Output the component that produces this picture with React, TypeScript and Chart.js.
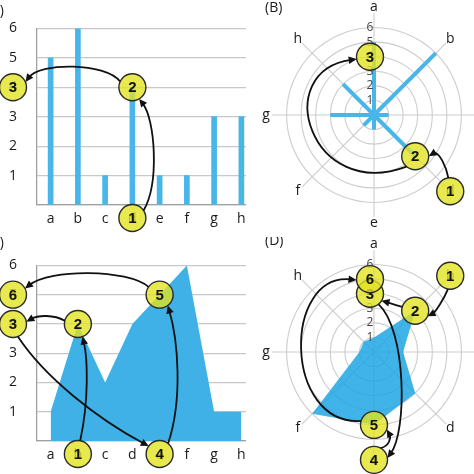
import { useEffect, useRef } from 'react';
import { Chart, registerables } from 'chart.js';

Chart.register(...registerables);

// chart data
const categories = ['a', 'b', 'c', 'd', 'e', 'f', 'g', 'h'];
const barValues = [5, 6, 1, 4, 1, 1, 3, 3]; // panels A and B
const areaValues = [1, 4, 2, 4, 5, 6, 1, 1]; // panels C and D
const yTicks = [1, 2, 3, 4, 5, 6];
const yMax = 6;
const ringMax = 7;
const LABEL_R = 7.4;

const BLUE = '#48b6e8';
const FONT = '"Open Sans", "Liberation Sans", sans-serif';
const BOLD = '"Liberation Sans", Arial, sans-serif';

type Spot = { n: number; at: 'label' | 'value' | 'tick'; i?: number; v?: number };
type Link = { from: number; to: number; a0: number; a1: number; c0: [number, number]; c1: [number, number] };

const spotsA: Spot[] = [
  { n: 1, at: 'label', i: 3 },
  { n: 2, at: 'value', i: 3, v: 4 },
  { n: 3, at: 'tick', v: 4 },
];
const linksA: Link[] = [
  { from: 1, to: 2, a0: -34, a1: 60, c0: [16, -27], c1: [16, 20] },
  { from: 2, to: 3, a0: -155, a1: -23, c0: [-15, -19], c1: [15, -20] },
];

const spotsB: Spot[] = [
  { n: 1, at: 'label', i: 3 },
  { n: 2, at: 'value', i: 3, v: 4 },
  { n: 3, at: 'tick', v: 4 },
];
const linksB: Link[] = [
  { from: 1, to: 2, a0: -98, a1: 0, c0: [-2, -11], c1: [10, -6] },
  { from: 2, to: 3, a0: 130, a1: 170, c0: [-96, 36], c1: [-87, 12] },
];

const spotsC: Spot[] = [
  { n: 1, at: 'label', i: 1 },
  { n: 2, at: 'value', i: 1, v: 4 },
  { n: 3, at: 'tick', v: 4 },
  { n: 4, at: 'label', i: 4 },
  { n: 5, at: 'value', i: 4, v: 5 },
  { n: 6, at: 'tick', v: 5 },
];
const linksC: Link[] = [
  { from: 1, to: 2, a0: -80, a1: 70, c0: [9, -42], c1: [5, 21] },
  { from: 2, to: 3, a0: 194, a1: -9, c0: [-11, -6], c1: [12, -7] },
  { from: 3, to: 4, a0: 69, a1: 216, c0: [27, 41], c1: [-51, -27] },
  { from: 4, to: 5, a0: -51, a1: 53, c0: [15, -45], c1: [10, 34] },
  { from: 5, to: 6, a0: 215, a1: -27, c0: [-21, -18], c1: [25, -20] },
];

const spotsD: Spot[] = [
  { n: 1, at: 'label', i: 1 },
  { n: 2, at: 'value', i: 1, v: 4 },
  { n: 3, at: 'tick', v: 4 },
  { n: 4, at: 'label', i: 4 },
  { n: 5, at: 'value', i: 4, v: 5 },
  { n: 6, at: 'tick', v: 5 },
];
const linksD: Link[] = [
  { from: 1, to: 2, a0: 100, a1: 24, c0: [-4, 10], c1: [8, -4] },
  { from: 2, to: 3, a0: 197, a1: 32, c0: [-8, -2], c1: [8, 2] },
  { from: 3, to: 4, a0: 51, a1: -8, c0: [28, 26], c1: [20, -27] },
  { from: 4, to: 5, a0: -61, a1: 20, c0: [10, -2], c1: [4, 7] },
  { from: 5, to: 6, a0: 197, a1: 176, c0: [-78, 5], c1: [-74, -8] },
];

type NoteCfg = {
  tag: string;
  tagX: number;
  tagY: number;
  tagAlign: CanvasTextAlign;
  spots: Spot[];
  links: Link[];
  radial?: boolean;
  spokes?: boolean;
};

const R = 13.5;

function spotXY(chart: any, s: Spot, radial?: boolean) {
  if (radial) {
    const r = chart.scales.r;
    if (s.at === 'tick') return { x: r.xCenter - 4, y: r.yCenter - r.getDistanceFromCenterForValue(s.v) };
    const p = r.getPointPositionForValue(s.i, s.at === 'label' ? LABEL_R : s.v);
    return { x: p.x, y: p.y };
  }
  const xs = chart.scales.x;
  const ys = chart.scales.y;
  if (s.at === 'tick') return { x: ys.right - 24, y: ys.getPixelForValue(s.v) };
  if (s.at === 'label') return { x: xs.getPixelForValue(s.i), y: chart.chartArea.bottom + 13 };
  return { x: xs.getPixelForValue(s.i), y: ys.getPixelForValue(s.v) };
}

function notes(cfg: NoteCfg) {
  return {
    id: 'notes',
    afterDatasetsDraw(chart: any) {
      if (!cfg.radial) return;
      const ctx = chart.ctx;
      const r = chart.scales.r;
      ctx.save();
      if (cfg.spokes) {
        ctx.strokeStyle = BLUE;
        ctx.lineWidth = 4;
        chart.getDatasetMeta(0).data.forEach((p: any) => {
          ctx.beginPath();
          ctx.moveTo(r.xCenter, r.yCenter);
          ctx.lineTo(p.x, p.y);
          ctx.stroke();
        });
      }
      ctx.textAlign = 'center';
      ctx.textBaseline = 'middle';
      ctx.font = `12px ${FONT}`;
      ctx.fillStyle = '#444';
      yTicks.forEach((v) => ctx.fillText(String(v), r.xCenter - 4, r.yCenter - r.getDistanceFromCenterForValue(v)));
      ctx.font = `14px ${FONT}`;
      ctx.fillStyle = '#1a1a1a';
      categories.forEach((c, i) => {
        const p = r.getPointPositionForValue(i, LABEL_R);
        ctx.fillText(c, p.x, p.y);
      });
      ctx.restore();
    },
    afterDraw(chart: any) {
      const ctx = chart.ctx;
      ctx.save();
      ctx.font = `14px ${FONT}`;
      ctx.fillStyle = '#1a1a1a';
      ctx.textAlign = cfg.tagAlign;
      ctx.textBaseline = 'middle';
      ctx.fillText(cfg.tag, cfg.tagX, cfg.tagY);

      const pos: Record<number, { x: number; y: number }> = {};
      cfg.spots.forEach((s) => {
        const p = spotXY(chart, s, cfg.radial);
        pos[s.n] = p;
        ctx.beginPath();
        ctx.arc(p.x, p.y, R, 0, Math.PI * 2);
        ctx.fillStyle = 'rgba(226,228,34,0.8)';
        ctx.fill();
        ctx.lineWidth = 1.4;
        ctx.strokeStyle = '#2a2a2a';
        ctx.stroke();
        ctx.fillStyle = '#111';
        ctx.font = `bold 15px ${BOLD}`;
        ctx.textAlign = 'center';
        ctx.fillText(String(s.n), p.x, p.y + 1);
      });

      ctx.strokeStyle = '#111';
      ctx.fillStyle = '#111';
      ctx.lineWidth = 1.8;
      cfg.links.forEach((l) => {
        const a = pos[l.from];
        const b = pos[l.to];
        const r0 = (l.a0 * Math.PI) / 180;
        const r1 = (l.a1 * Math.PI) / 180;
        const p0 = { x: a.x + R * Math.cos(r0), y: a.y + R * Math.sin(r0) };
        const p3 = { x: b.x + R * Math.cos(r1), y: b.y + R * Math.sin(r1) };
        const k0 = { x: p0.x + l.c0[0], y: p0.y + l.c0[1] };
        const k1 = { x: p3.x + l.c1[0], y: p3.y + l.c1[1] };
        const ang = Math.atan2(p3.y - k1.y, p3.x - k1.x);
        const L = 8;
        const W = 3.8;
        const base = { x: p3.x - L * 0.7 * Math.cos(ang), y: p3.y - L * 0.7 * Math.sin(ang) };
        ctx.beginPath();
        ctx.moveTo(p0.x, p0.y);
        ctx.bezierCurveTo(k0.x, k0.y, k1.x, k1.y, base.x, base.y);
        ctx.stroke();
        ctx.beginPath();
        ctx.moveTo(p3.x, p3.y);
        ctx.lineTo(p3.x - L * Math.cos(ang) + W * Math.sin(ang), p3.y - L * Math.sin(ang) - W * Math.cos(ang));
        ctx.lineTo(p3.x - L * Math.cos(ang) - W * Math.sin(ang), p3.y - L * Math.sin(ang) + W * Math.cos(ang));
        ctx.closePath();
        ctx.fill();
      });
      ctx.restore();
    },
  };
}

function cartesianOptions(top: number, xHeight: number) {
  return {
    animation: false,
    responsive: false,
    layout: { padding: { top, right: 7, left: 0, bottom: 0 } },
    plugins: { legend: { display: false }, tooltip: { enabled: false } },
    scales: {
      x: {
        offset: true,
        grid: { display: false, drawTicks: false },
        border: { color: '#a0a0a0', width: 1.3 },
        ticks: { color: '#1a1a1a', font: { family: FONT, size: 14 }, padding: 6, maxRotation: 0 },
        afterFit: (s: any) => {
          s.height = xHeight;
        },
      },
      y: {
        min: 0,
        max: yMax,
        ticks: {
          stepSize: 1,
          padding: 20,
          color: '#1a1a1a',
          font: { family: FONT, size: 14 },
          callback: (v: any) => (v === 0 ? '' : v),
        },
        grid: { color: '#c8c8c8', lineWidth: 1.2, drawTicks: false },
        border: { color: '#a0a0a0', width: 1.3 },
        afterFit: (s: any) => {
          s.width = 37;
        },
      },
    },
  };
}

function radarOptions() {
  return {
    animation: false,
    responsive: false,
    layout: { padding: { left: 26, top: 13, right: 10, bottom: 20 } },
    plugins: { legend: { display: false }, tooltip: { enabled: false } },
    scales: {
      r: {
        min: 0,
        max: ringMax,
        ticks: { display: false, stepSize: 1 },
        pointLabels: { display: false },
        grid: {
          circular: true,
          lineWidth: 1.1,
          color: (c: any) => (c.tick && c.tick.value >= ringMax ? 'rgba(0,0,0,0)' : '#cdcdcd'),
        },
        angleLines: { color: '#cdcdcd', lineWidth: 1.1 },
      },
    },
  };
}

function Panel({ left, top, width, height, build, white }: any) {
  const ref = useRef<HTMLCanvasElement>(null);
  useEffect(() => {
    if (!ref.current) return;
    const chart = new Chart(ref.current, build());
    return () => {
      chart.destroy();
    };
  }, []);
  return (
    <canvas
      ref={ref}
      width={width}
      height={height}
      style={{ position: 'absolute', left, top, width, height, background: white ? '#fff' : 'transparent' }}
    />
  );
}

const buildA = () => ({
  type: 'bar',
  data: { labels: categories, datasets: [{ data: barValues, backgroundColor: BLUE, barThickness: 5 }] },
  options: cartesianOptions(9, 32),
  plugins: [notes({ tag: '(A)', tagX: 4, tagY: 11, tagAlign: 'right', spots: spotsA, links: linksA })],
});

const buildC = () => ({
  type: 'line',
  data: {
    labels: categories,
    datasets: [
      { data: areaValues, fill: 'origin', backgroundColor: '#3fb1e6', borderWidth: 0, pointRadius: 0, tension: 0 },
    ],
  },
  options: cartesianOptions(6, 33),
  plugins: [notes({ tag: '(C)', tagX: 4, tagY: 6, tagAlign: 'right', spots: spotsC, links: linksC })],
});

const buildB = () => ({
  type: 'radar',
  data: {
    labels: categories,
    datasets: [{ data: barValues, borderWidth: 0, pointRadius: 0, fill: false, showLine: false, backgroundColor: 'rgba(0,0,0,0)' }],
  },
  options: radarOptions(),
  plugins: [notes({ tag: '(B)', tagX: 19, tagY: 8, tagAlign: 'left', spots: spotsB, links: linksB, radial: true, spokes: true })],
});

const buildD = () => ({
  type: 'radar',
  data: {
    labels: categories,
    datasets: [{ data: areaValues, fill: 'origin', backgroundColor: 'rgba(30,166,228,0.85)', borderWidth: 0, pointRadius: 0 }],
  },
  options: radarOptions(),
  plugins: [notes({ tag: '(D)', tagX: 19, tagY: 4, tagAlign: 'left', spots: spotsD, links: linksD, radial: true })],
});

export default function App() {
  return (
    <div style={{ position: 'fixed', left: 0, top: 0, width: 474, height: 474, overflow: 'hidden', background: '#fff' }}>
      <Panel left={0} top={0} width={262} height={237} build={buildA} />
      <Panel left={0} top={237} width={262} height={237} build={buildC} />
      <Panel left={246} top={0} width={240} height={237} build={buildB} white />
      <Panel left={246} top={237} width={240} height={237} build={buildD} white />
    </div>
  );
}
